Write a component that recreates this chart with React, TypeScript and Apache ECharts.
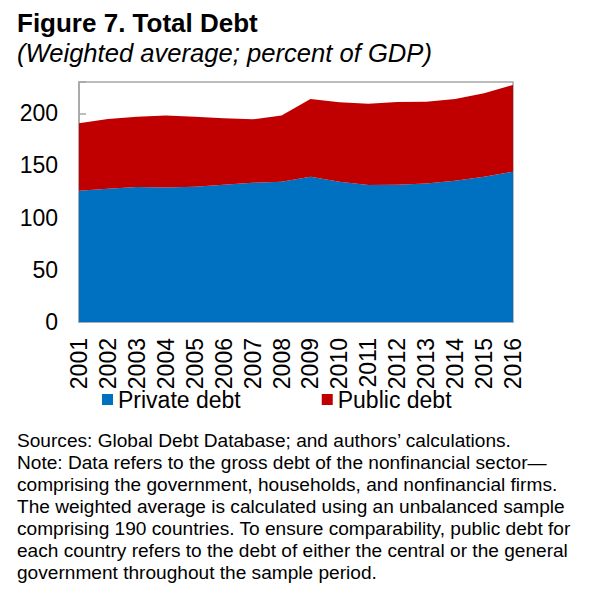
import React, { useEffect, useRef } from "react";
import * as echarts from "echarts";

// Years on the horizontal axis
const years = [
  "2001", "2002", "2003", "2004", "2005", "2006", "2007", "2008",
  "2009", "2010", "2011", "2012", "2013", "2014", "2015", "2016",
];

// Private debt, percent of GDP
const privateDebt = [
  125.7, 127.6, 129.3, 129.0, 129.6, 131.5, 133.4, 134.4,
  139.2, 134.4, 131.2, 131.5, 132.8, 135.3, 139.2, 144.0,
];

// Public debt, percent of GDP (stacked on top of private debt)
const publicDebt = [
  64.7, 66.9, 67.4, 69.0, 67.2, 63.7, 60.8, 63.6,
  74.5, 76.1, 78.0, 79.3, 78.3, 78.4, 80.0, 83.2,
];

const yTicks = [0, 50, 100, 150, 200];

const notes = [
  "Sources: Global Debt Database; and authors’ calculations.",
  "Note: Data refers to the gross debt of the nonfinancial sector—",
  "comprising the government, households, and nonfinancial firms.",
  "The weighted average is calculated using an unbalanced sample",
  "comprising 190 countries. To ensure comparability, public debt for",
  "each country refers to the debt of either the central or the general",
  "government throughout the sample period.",
];

const FONT = "'Liberation Sans', Arial, Helvetica, sans-serif";

export default function App() {
  const ref = useRef<HTMLDivElement>(null);

  useEffect(() => {
    if (!ref.current) return;
    const chart = echarts.init(ref.current, null, { renderer: "svg" });

    const noteTexts = notes.map((line, i) => ({
      type: "text",
      left: 17,
      top: 431 + i * 22,
      style: {
        text: line,
        font: `19.1px ${FONT}`,
        fill: "#000",
      },
    }));

    chart.setOption({
      animation: false,
      backgroundColor: "#fff",
      textStyle: { fontFamily: FONT },
      graphic: [
        {
          type: "text",
          left: 17,
          top: 10,
          style: {
            text: "Figure 7. Total Debt",
            font: `bold 26px ${FONT}`,
            fill: "#000",
          },
        },
        {
          type: "text",
          left: 17,
          top: 40,
          style: {
            text: "(Weighted average; percent of GDP)",
            font: `italic 25.6px ${FONT}`,
            fill: "#000",
          },
        },
        ...noteTexts,
      ],
      legend: {
        left: 102,
        top: 388,
        padding: 0,
        itemWidth: 11,
        itemHeight: 11,
        itemGap: 81,
        icon: "rect",
        textStyle: { fontSize: 23, color: "#000", fontFamily: FONT },
        data: ["Private debt", "Public debt"],
      },
      grid: {
        left: 79,
        right: 77,
        top: 82,
        bottom: 276,
        show: true,
        borderColor: "#a6a6a6",
        borderWidth: 1.5,
        backgroundColor: "transparent",
      },
      xAxis: {
        type: "category",
        data: years,
        boundaryGap: false,
        axisLine: { show: true, lineStyle: { color: "#a6a6a6", width: 1.5 } },
        axisTick: { show: false },
        axisLabel: {
          rotate: 90,
          fontSize: 23,
          color: "#000",
          margin: 16,
          interval: 0,
          fontFamily: FONT,
        },
        splitLine: { show: false },
      },
      yAxis: {
        type: "value",
        min: 0,
        max: 230,
        interval: 50,
        axisLine: { show: true, lineStyle: { color: "#a6a6a6", width: 1.5 } },
        axisTick: {
          show: true,
          inside: true,
          length: 7,
          lineStyle: { color: "#a6a6a6", width: 1.5 },
        },
        axisLabel: {
          fontSize: 23,
          color: "#000",
          margin: 21,
          fontFamily: FONT,
          formatter: (v: number) => (yTicks.includes(v) ? String(v) : ""),
        },
        splitLine: { show: false },
      },
      series: [
        {
          name: "Private debt",
          type: "line",
          stack: "total",
          data: privateDebt,
          symbol: "none",
          lineStyle: { width: 0 },
          itemStyle: { color: "#0070C0" },
          areaStyle: { color: "#0070C0", opacity: 1 },
        },
        {
          name: "Public debt",
          type: "line",
          stack: "total",
          data: publicDebt,
          symbol: "none",
          lineStyle: { width: 0 },
          itemStyle: { color: "#C00000" },
          areaStyle: { color: "#C00000", opacity: 1 },
        },
      ],
    });

    return () => chart.dispose();
  }, []);

  return <div ref={ref} style={{ width: 590, height: 598, margin: -8 }} />;
}
